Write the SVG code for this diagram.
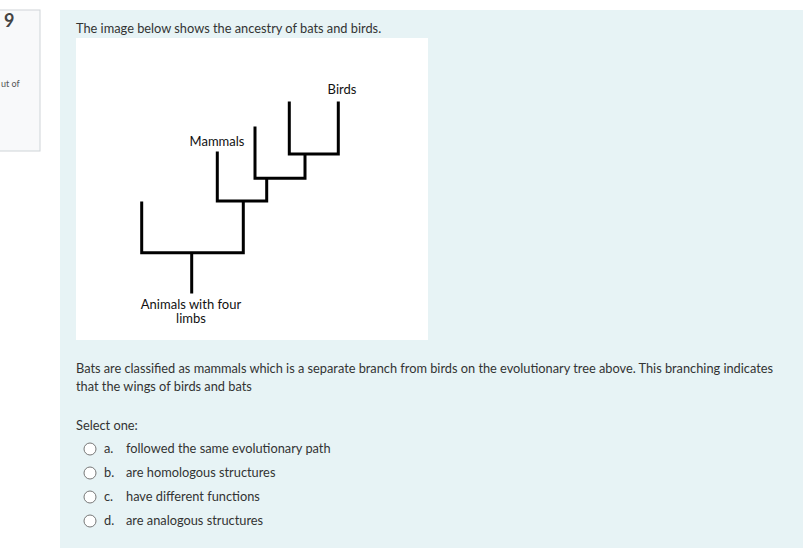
<svg xmlns="http://www.w3.org/2000/svg" width="803" height="548" viewBox="0 0 803 548">
<style>
text{font-family:Lato,"Open Sans",sans-serif;font-size:12.8px;fill:#333}
.lbl{font-size:13px;fill:#111;text-anchor:middle}
.br{stroke:#000;stroke-width:3;fill:none;stroke-linecap:square}
.rd{fill:#fff;stroke:#777;stroke-width:1}
</style>
<rect x="-1" y="10" width="41" height="141" fill="#f8f9fa" stroke="#cfd4d8"/>
<text x="4" y="27" style="font-size:18px;font-weight:bold;fill:#444">9</text>
<text x="1" y="87" style="font-size:9px;fill:#555">ut of</text>
<rect x="60" y="10" width="743" height="538" fill="#e7f3f5"/>
<text x="76" y="33">The image below shows the ancestry of bats and birds.</text>
<rect x="76" y="38" width="352" height="302" fill="#fff"/>
<g id="connectors">
<path class="br" d="M141.7,203V252.7H243.3V202M191.7,252.7V292M217.3,153V201H266.7M243.3,201H266.7V178.3M255,128V178.3H305M305,178.3V154M289.3,103V154H338.3V103"/>
</g>
<g id="birds"><text class="lbl" x="342" y="94">Birds</text></g>
<g id="mammals"><text class="lbl" x="217" y="146">Mammals</text></g>
<g id="animals"><text class="lbl" x="191" y="308.5">Animals with four</text><text class="lbl" x="191" y="322.5">limbs</text></g>
<text x="76" y="373" textLength="697">Bats are classified as mammals which is a separate branch from birds on the evolutionary tree above. This branching indicates</text>
<text x="76" y="391">that the wings of birds and bats</text>
<text x="76" y="430">Select one:</text>
<circle class="rd" cx="90" cy="449" r="6"/><text x="104" y="453">a.</text><text x="126" y="453">followed the same evolutionary path</text>
<circle class="rd" cx="90" cy="473" r="6"/><text x="104" y="477">b.</text><text x="126" y="477">are homologous structures</text>
<circle class="rd" cx="90" cy="497" r="6"/><text x="104" y="501">c.</text><text x="126" y="501">have different functions</text>
<circle class="rd" cx="90" cy="521" r="6"/><text x="104" y="525">d.</text><text x="126" y="525">are analogous structures</text>
</svg>
